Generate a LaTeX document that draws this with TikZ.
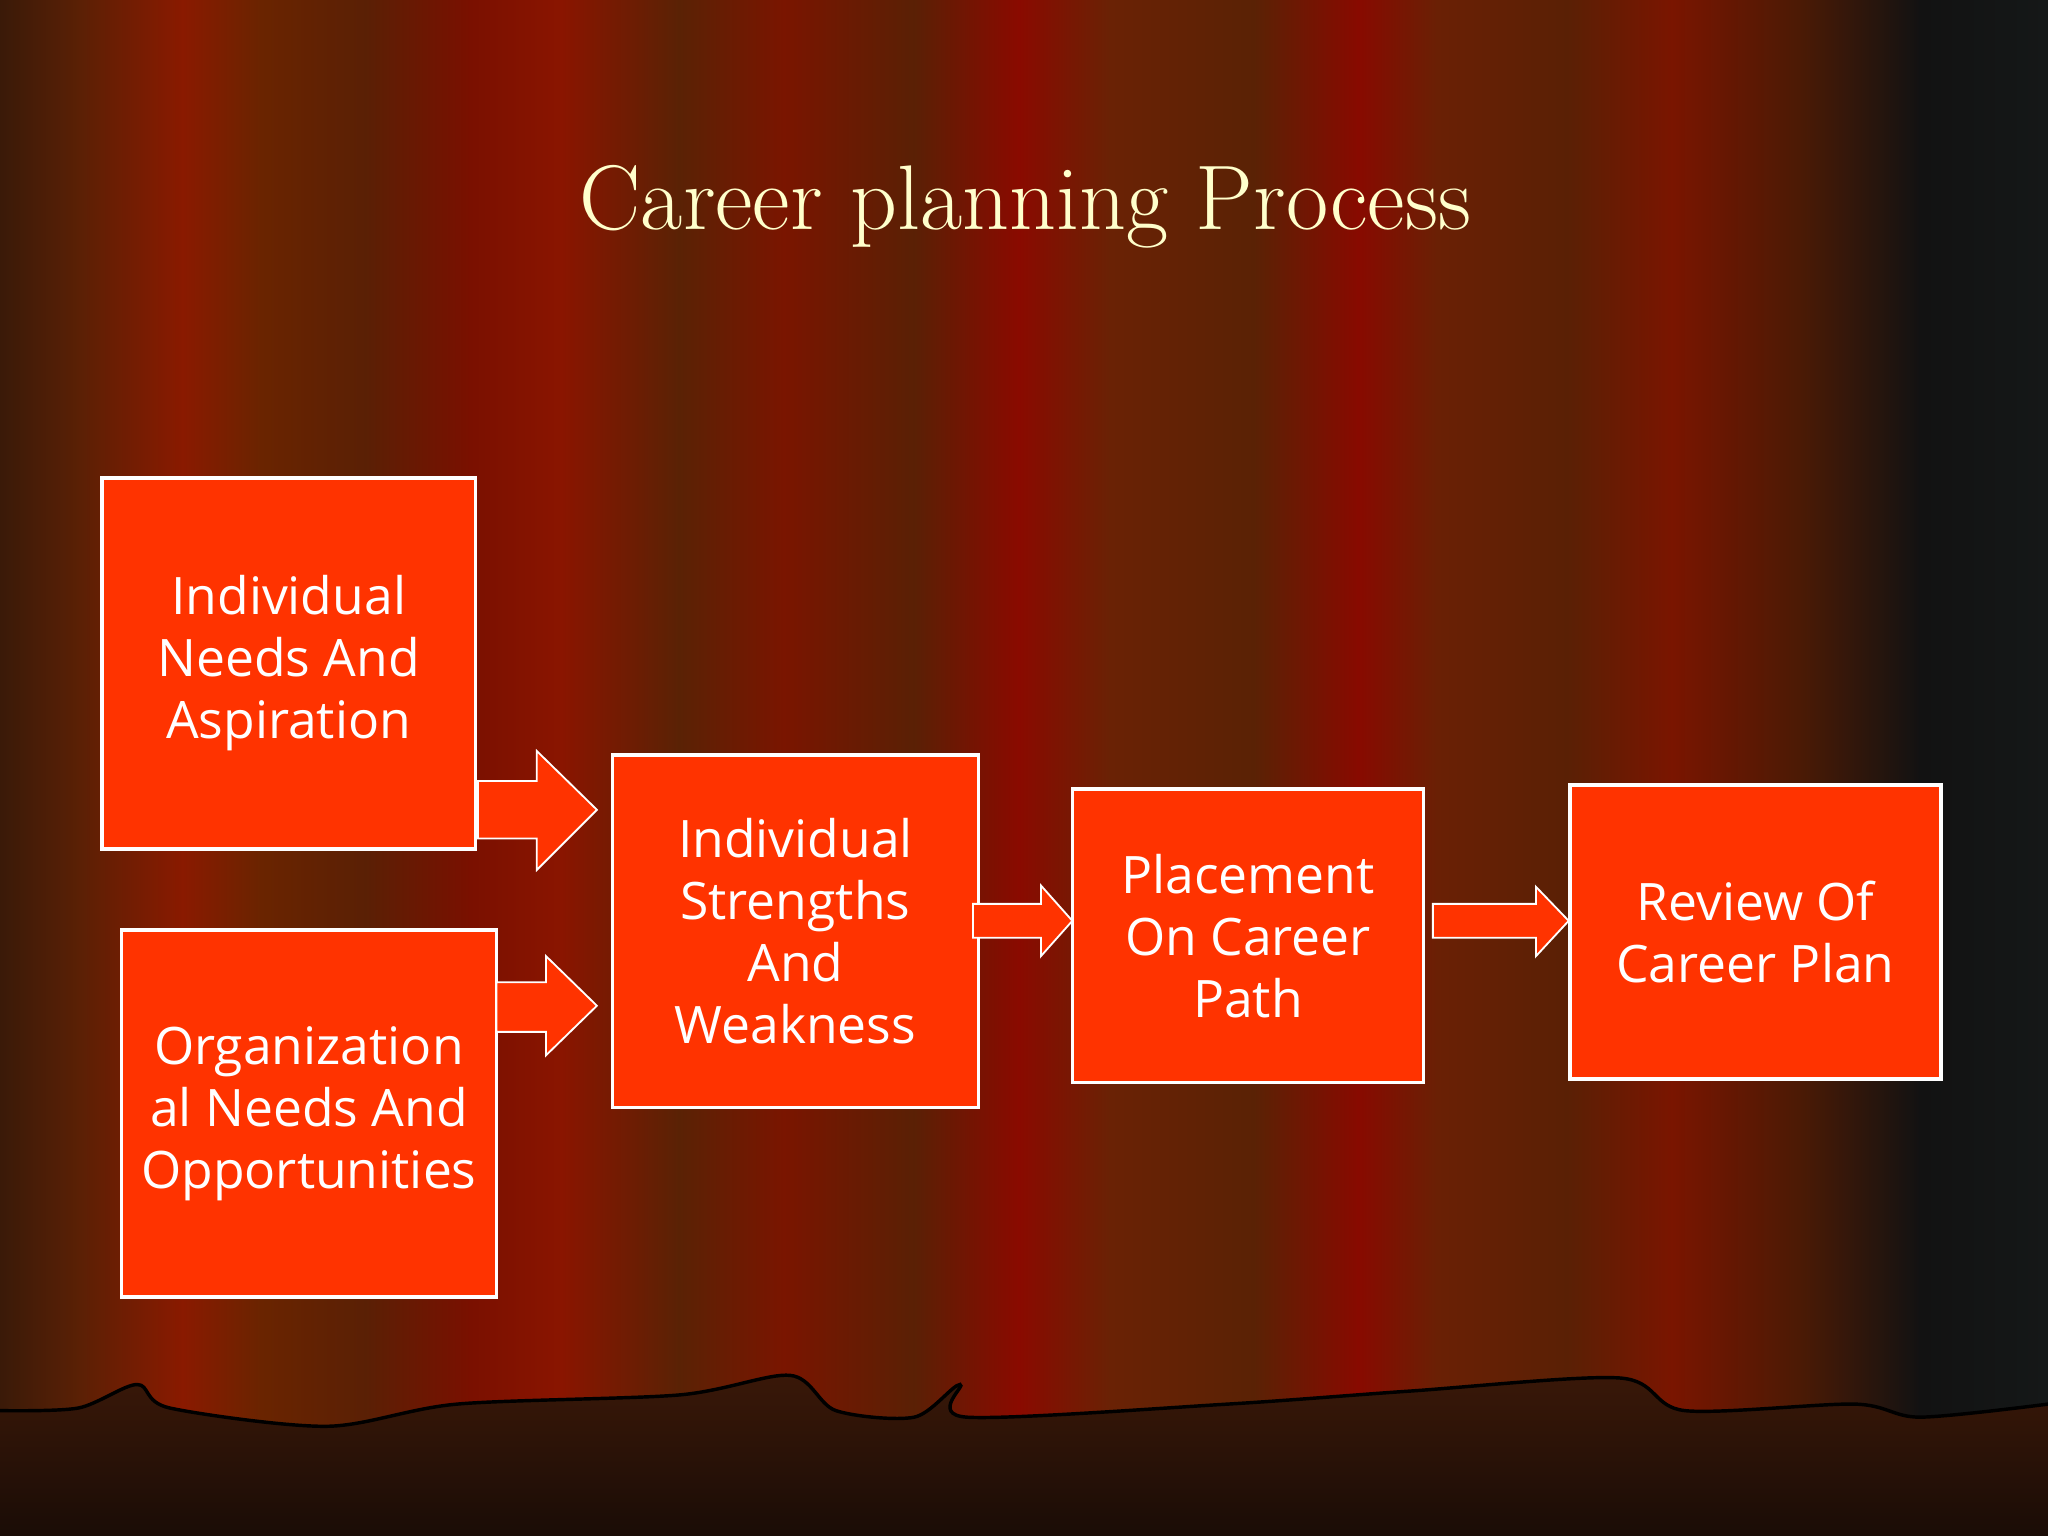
\documentclass[tikz,border=0pt]{standalone}
\usepackage{fontspec}
\setsansfont{Open Sans}
\usetikzlibrary{calc}
\definecolor{boxc}{HTML}{FF3300}
\definecolor{titlec}{HTML}{FFFFCC}
\definecolor{floortop}{HTML}{3A1808}
\definecolor{floorbot}{HTML}{1A0C06}
\begin{document}
\begin{tikzpicture}[x=0.02cm,y=-0.02cm,
  stepbox/.style={draw=white,line width=1.5pt,fill=boxc,inner sep=0pt,text=white,align=center,font=\sffamily\fontsize{22.5}{27}\selectfont},
  barrow/.style={draw=white,line width=0.8pt,fill=boxc}]
\useasboundingbox (0,0) rectangle (1568,1176);
% curtain stripes
\foreach \xa/\xb/\ca/\cb in {0/60/3A1A08/5A2005,60/140/5A2005/8A1A00,140/200/8A1A00/6A2400,200/280/6A2400/5A2005,280/360/5A2005/7A1000,360/430/7A1000/8A1500,430/520/8A1500/5A2205,520/600/5A2205/7A1500,600/700/7A1500/5A2005,700/780/5A2005/8A0A00,780/850/8A0A00/6A2205,850/960/6A2205/5A2205,960/1040/5A2205/880A00,1040/1100/880A00/6A2005,1100/1200/6A2005/5A2005,1200/1280/5A2005/7A1500,1280/1380/7A1500/4A1A05,1380/1470/4A1A05/121212,1470/1568/121212/151818}{
  \definecolor{ca}{HTML}{\ca}\definecolor{cb}{HTML}{\cb}
  \shade[left color=ca,right color=cb] (\xa-0.5,0) rectangle (\xb+0.5,1176);
}
% floor
\begin{scope}
\clip plot[smooth] coordinates {(0,1080)(60,1078)(105,1060)(130,1078)(250,1092)(350,1075)(520,1068)(605,1053)(640,1080)(700,1085)(735,1060)(740,1085)(940,1075)(1080,1065)(1240,1055)(1290,1080)(1420,1075)(1470,1085)(1568,1075)} -- (1568,1176) -- (0,1176) -- cycle;
\shade[top color=floortop,bottom color=floorbot] (0,1050) rectangle (1568,1176);
\end{scope}
\draw[black,line width=1.5pt] plot[smooth] coordinates {(0,1080)(60,1078)(105,1060)(130,1078)(250,1092)(350,1075)(520,1068)(605,1053)(640,1080)(700,1085)(735,1060)(740,1085)(940,1075)(1080,1065)(1240,1055)(1290,1080)(1420,1075)(1470,1085)(1568,1075)};
% title
\node[text=titlec,font=\fontsize{40}{44}\selectfont] (title) at (785,158) {Career planning Process};
% boxes
\node[stepbox,minimum width=5.72cm,minimum height=5.68cm] (A) at (221,508) {Individual\\Needs And\\Aspiration};
\node[stepbox,minimum width=5.74cm,minimum height=5.62cm] (B) at (236.5,852.5) {Organization\\al Needs And\\Opportunities};
\node[stepbox,minimum width=5.6cm,minimum height=5.4cm] (C) at (609,713) {Individual\\Strengths\\And\\Weakness};
\node[stepbox,minimum width=5.38cm,minimum height=4.5cm] (D) at (955.5,716.5) {Placement\\On Career\\Path};
\node[stepbox,minimum width=5.68cm,minimum height=4.5cm] (E) at (1344,713.5) {Review Of\\Career Plan};
% block arrows
\draw[barrow] (366,598) -- (411,598) -- (411,575) -- (457,620) -- (411,666) -- (411,642) -- (366,642) -- cycle;
\draw[barrow] (380,752) -- (418,752) -- (418,732) -- (457,770) -- (418,808) -- (418,790) -- (380,790) -- cycle;
\draw[barrow] (745,692) -- (797,692) -- (797,678) -- (821,705) -- (797,732) -- (797,718) -- (745,718) -- cycle;
\draw[barrow] (1097,692) -- (1176,692) -- (1176,679) -- (1201,705) -- (1176,732) -- (1176,718) -- (1097,718) -- cycle;
\end{tikzpicture}
\end{document}
